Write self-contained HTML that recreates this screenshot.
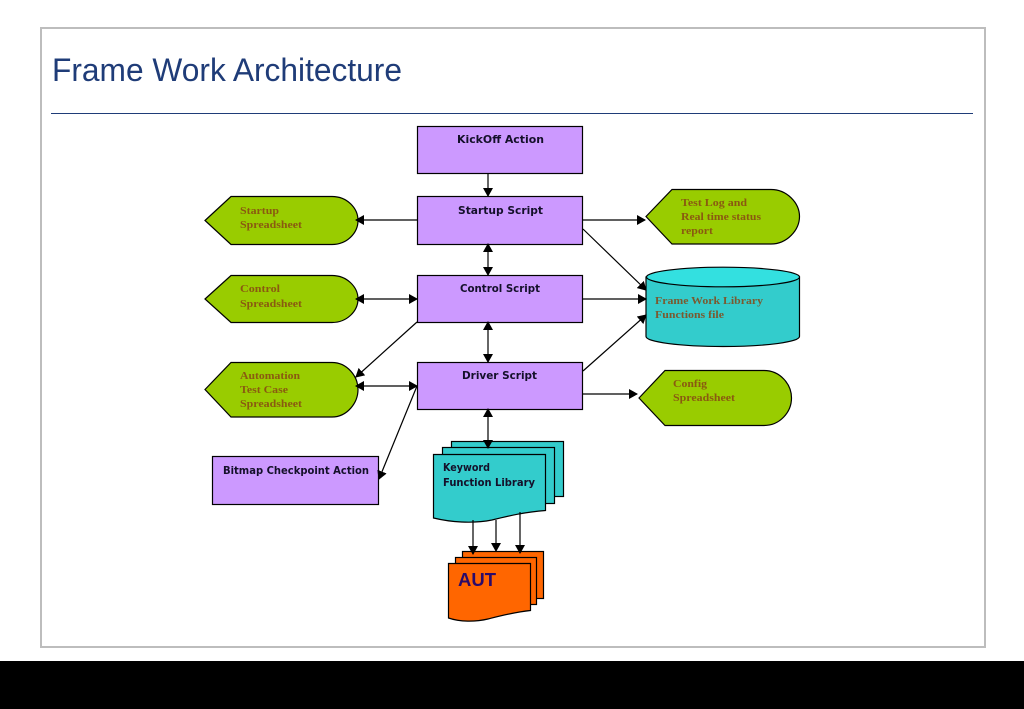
<!DOCTYPE html>
<html><head><meta charset="utf-8"><style>
html,body{margin:0;padding:0;background:#fff;width:1024px;height:709px;overflow:hidden}
svg{display:block}
.b{font:bold 11px "DejaVu Sans","Liberation Sans",sans-serif;fill:#14102a}
.s{font:bold 11px "Liberation Serif",serif;fill:#8a5a10}
</style></head><body>
<svg width="1024" height="709" viewBox="0 0 1024 709" xmlns="http://www.w3.org/2000/svg">
<defs>
<marker id="a" markerUnits="userSpaceOnUse" markerWidth="9" markerHeight="10" refX="8" refY="5" orient="auto-start-reverse"><path d="M0 0L9 5L0 10Z" fill="#000"/></marker>
</defs>
<rect width="1024" height="709" fill="#fff"/>
<rect x="41" y="28" width="944" height="619" fill="#fff" stroke="#bdbdbd" stroke-width="2"/>
<text x="52" y="81" font-family="Liberation Sans" font-size="32" fill="#1f3c78" textLength="350" lengthAdjust="spacingAndGlyphs">Frame Work Architecture</text>
<rect x="51" y="113" width="922" height="1" fill="#1f3c78"/>

<g fill="#cc99ff" stroke="#000" stroke-width="1.200">
<rect x="417.500" y="126.500" width="165" height="47"/>
<rect x="417.500" y="196.500" width="165" height="48"/>
<rect x="417.500" y="275.500" width="165" height="47"/>
<rect x="417.500" y="362.500" width="165" height="47"/>
<rect x="212.500" y="456.500" width="166" height="48"/>
</g>
<g fill="#99cc00" stroke="#000" stroke-width="1.200">
<path d="M205 220.500L231 196.500H332C347 196.500 358 208 358 220.500C358 233 347 244.500 332 244.500H231Z"/>
<path d="M205 299L231 275.500H332C347 275.500 358 287 358 299C358 311 347 322.500 332 322.500H231Z"/>
<path d="M205 389.500L231 362.500H332C347 362.500 358 376 358 389.500C358 403 347 417 332 417H231Z"/>
<path d="M646 216.500L672 189.500H771C787 189.500 799.500 203 799.500 216.500C799.500 230 787 244 771 244H672Z"/>
<path d="M639 398L665 370.500H764C780 370.500 791.500 384 791.500 398C791.500 412 780 425.500 764 425.500H665Z"/>
</g>
<path d="M646 277V336.500C646 342 680 346.500 723 346.500C766 346.500 799.500 342 799.500 336.500V277Z" fill="#33cccc" stroke="#000" stroke-width="1.200"/>
<ellipse cx="723" cy="277" rx="76.500" ry="9.800" fill="#33e0e0" stroke="#000" stroke-width="1.200"/>

<g stroke="#000" fill="#33cccc" stroke-width="1.200">
<rect x="451.500" y="441.500" width="112" height="55"/>
<rect x="442.500" y="447.500" width="112" height="56"/>
<path d="M433.500 454.500H545.500V510.500C525 512 508 516 492 520C472 524 450 522 433.500 518Z"/>
</g>
<g stroke="#000" fill="#ff6600" stroke-width="1.200">
<rect x="462.500" y="551.500" width="81" height="47"/>
<rect x="455.500" y="557.500" width="81" height="47"/>
<path d="M448.500 563.500H530.500V610.500C515 612 500 616 488 619C475 622 460 622 448.500 618Z"/>
</g>

<g stroke="#000" stroke-width="1.200" fill="none" marker-end="url(#a)">
<line x1="488" y1="174" x2="488" y2="196"/>
<line x1="417" y1="220" x2="356" y2="220"/>
<line x1="583" y1="220" x2="645" y2="220"/>
<line x1="583" y1="229" x2="646" y2="290"/>
<line x1="583" y1="299" x2="646" y2="299"/>
<line x1="583" y1="371" x2="646" y2="315"/>
<line x1="583" y1="394" x2="637" y2="394"/>
<line x1="417" y1="322" x2="356" y2="377"/>
<line x1="417" y1="386" x2="379" y2="479"/>
<line x1="473" y1="520" x2="473" y2="554"/>
<line x1="496" y1="520" x2="496" y2="551"/>
<line x1="520" y1="512" x2="520" y2="553"/>
<line x1="488" y1="244" x2="488" y2="275" marker-start="url(#a)"/>
<line x1="488" y1="322" x2="488" y2="362" marker-start="url(#a)"/>
<line x1="488" y1="409" x2="488" y2="448" marker-start="url(#a)"/>
<line x1="356" y1="299" x2="417" y2="299" marker-start="url(#a)"/>
<line x1="356" y1="386" x2="417" y2="386" marker-start="url(#a)"/>
</g>

<g>
<text class="b" x="457" y="143" textLength="87" lengthAdjust="spacingAndGlyphs">KickOff Action</text>
<text class="b" x="458" y="214" textLength="85" lengthAdjust="spacingAndGlyphs">Startup Script</text>
<text class="b" x="460" y="292" textLength="80" lengthAdjust="spacingAndGlyphs">Control Script</text>
<text class="b" x="462" y="379" textLength="75" lengthAdjust="spacingAndGlyphs">Driver Script</text>
<text class="b" x="223" y="474" textLength="146" lengthAdjust="spacingAndGlyphs">Bitmap Checkpoint Action</text>
<text class="b" x="443" y="471" textLength="47" lengthAdjust="spacingAndGlyphs">Keyword</text>
<text class="b" x="443" y="486" textLength="92" lengthAdjust="spacingAndGlyphs">Function Library</text>
</g>
<g>
<text class="s" x="240" y="214" textLength="39" lengthAdjust="spacingAndGlyphs">Startup</text>
<text class="s" x="240" y="228" textLength="62" lengthAdjust="spacingAndGlyphs">Spreadsheet</text>
<text class="s" x="240" y="292" textLength="40" lengthAdjust="spacingAndGlyphs">Control</text>
<text class="s" x="240" y="307" textLength="62" lengthAdjust="spacingAndGlyphs">Spreadsheet</text>
<text class="s" x="240" y="379" textLength="60" lengthAdjust="spacingAndGlyphs">Automation</text>
<text class="s" x="240" y="393" textLength="48" lengthAdjust="spacingAndGlyphs">Test Case</text>
<text class="s" x="240" y="407" textLength="62" lengthAdjust="spacingAndGlyphs">Spreadsheet</text>
<text class="s" x="681" y="206" textLength="66" lengthAdjust="spacingAndGlyphs">Test Log and</text>
<text class="s" x="681" y="220" textLength="80" lengthAdjust="spacingAndGlyphs">Real time status</text>
<text class="s" x="681" y="234" textLength="32" lengthAdjust="spacingAndGlyphs">report</text>
<text class="s" x="655" y="304" textLength="108" lengthAdjust="spacingAndGlyphs" style="fill:#7a5a30">Frame Work Library</text>
<text class="s" x="655" y="318" textLength="69" lengthAdjust="spacingAndGlyphs" style="fill:#7a5a30">Functions file</text>
<text class="s" x="673" y="387" textLength="34" lengthAdjust="spacingAndGlyphs">Config</text>
<text class="s" x="673" y="401" textLength="62" lengthAdjust="spacingAndGlyphs">Spreadsheet</text>
</g>
<text x="458" y="586" font-family="Liberation Sans" font-weight="bold" font-size="18" fill="#2a0a6a" textLength="38" lengthAdjust="spacingAndGlyphs">AUT</text>
<rect x="0" y="661" width="1024" height="48" fill="#000"/>
</svg>
</body></html>
